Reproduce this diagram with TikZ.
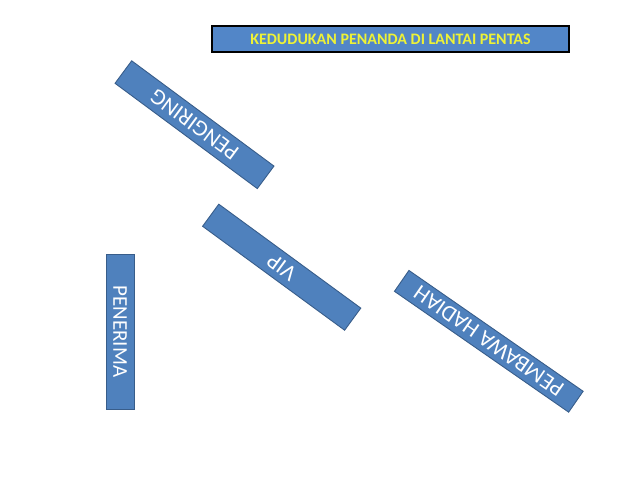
\documentclass[tikz,border=0pt]{standalone}
\usepackage{fontspec}
\setmainfont{Carlito}
\definecolor{boxblue}{HTML}{4F81BD}
\definecolor{boxline}{HTML}{385D8A}
\definecolor{titleblue}{HTML}{5286C8}
\definecolor{titleyellow}{HTML}{EEF236}
\begin{document}
\begin{tikzpicture}[x=1pt,y=-1pt,
  tag/.style={draw=boxline,line width=0.9pt,fill=boxblue,text=white,inner sep=0pt,font=\fontsize{22.5}{22.5}\selectfont},
  titlebox/.style={draw=black,line width=1.8pt,fill=titleblue,text=titleyellow,inner sep=0pt,font=\fontsize{16}{16}\selectfont\bfseries}]
\useasboundingbox (0,0) rectangle (638,478);
\node[titlebox,minimum width=357pt,minimum height=26pt] (title) at (390.5,39) {KEDUDUKAN PENANDA DI LANTAI PENTAS};
\node[tag,minimum width=177pt,minimum height=28pt,rotate=143.5] (pengiring) at (194.5,124.7) {PENGIRING};
\node[tag,minimum width=176pt,minimum height=27.4pt,rotate=143.8] (vip) at (281.7,267.2) {VIP};
\node[tag,minimum width=212pt,minimum height=25.4pt,rotate=145.25] (pembawa) at (488.8,341.3) {PEMBAWA HADIAH};
\node[tag,minimum width=155pt,minimum height=28pt,rotate=-90,font=\fontsize{21}{21}\selectfont] (penerima) at (120,331.5) {PENERIMA};
\end{tikzpicture}
\end{document}
